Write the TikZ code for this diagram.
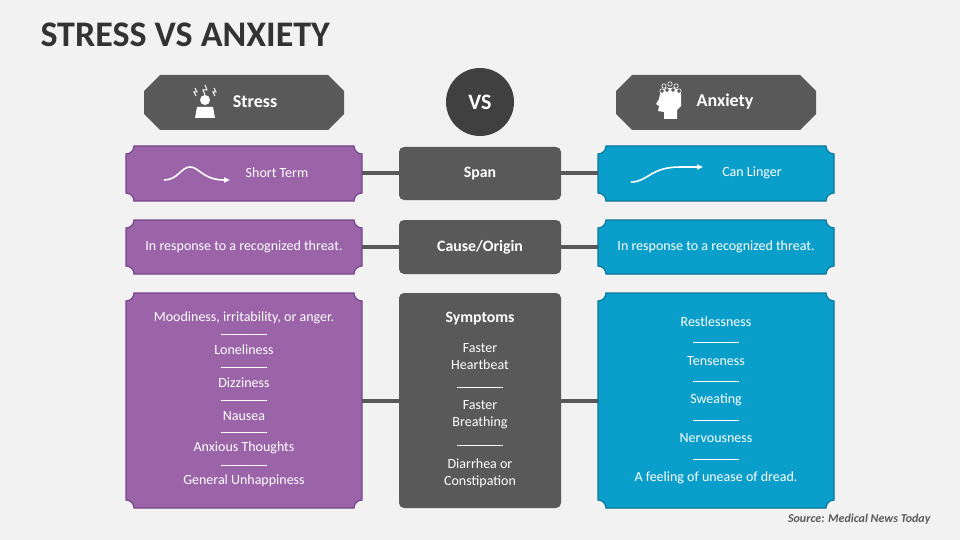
\documentclass[tikz,border=0pt]{standalone}
\usepackage{fontspec}
\setmainfont{Carlito}
\usetikzlibrary{arrows.meta}
\definecolor{bg}{HTML}{F2F2F2}
\definecolor{hdr}{HTML}{595959}
\definecolor{mid}{HTML}{595959}
\definecolor{vsc}{HTML}{404040}
\definecolor{pur}{HTML}{9B64A9}
\definecolor{purd}{HTML}{76468A}
\definecolor{blu}{HTML}{0A9FCB}
\definecolor{blud}{HTML}{0A7899}
\definecolor{ttl}{HTML}{333333}
\newcommand{\notchbox}[6]{%
\filldraw[fill=#5,draw=#6,line width=1.2pt] (#1+8,#2) -- (#3-8,#2) arc[start angle=180,end angle=270,radius=8] -- (#3,#4+8) arc[start angle=90,end angle=180,radius=8] -- (#1+8,#4) arc[start angle=0,end angle=90,radius=8] -- (#1,#2-8) arc[start angle=270,end angle=360,radius=8] -- cycle;}
\tikzset{x=1pt,y=1pt,
 txt/.style={text=white,font=\fontsize{14}{16}\selectfont,align=center},
 btxt/.style={text=white,font=\bfseries\fontsize{15.8}{18}\selectfont,align=center},
 hole/.style={draw=none,inner sep=0pt},
 conn/.style={draw=hdr,line width=4pt},
 sep/.style={draw=white,line width=1pt},
 midbox/.style={fill=mid,rounded corners=5pt,draw=none,inner sep=0pt}}
\begin{document}
\begin{tikzpicture}
\useasboundingbox[fill=bg] (0,0) rectangle (960,-540);
\node[anchor=base west,text=ttl,font=\bfseries\fontsize{36}{40}\selectfont] (title) at (37,-47) {STRESS VS ANXIETY};
% headers
\fill[hdr] (160,-75) -- (328,-75) -- (344,-91) -- (344,-114) -- (328,-130) -- (160,-130) -- (144,-114) -- (144,-91) -- cycle;
\fill[hdr] (632,-75) -- (800,-75) -- (816,-91) -- (816,-114) -- (800,-130) -- (632,-130) -- (616,-114) -- (616,-91) -- cycle;
\node[btxt,font=\bfseries\fontsize{18}{20}\selectfont] (hs) at (255,-102) {Stress};
\node[btxt,font=\bfseries\fontsize{18}{20}\selectfont] (ha) at (725,-102) {Anxiety};
\node[circle,fill=vsc,minimum size=68pt,btxt,font=\bfseries\fontsize{22}{24}\selectfont] (vs) at (480,-102) {VS};
% stress icon
\fill[white] (205,-100) circle (5);
\fill[white] (195,-118) -- (197,-107) -- (213,-107) -- (215,-118) -- cycle;
\draw[white,line width=1pt] (205,-85) -- (207,-90) -- (203,-90) -- (205,-95);
\draw[white,line width=1pt] (195,-88) -- (197,-92) -- (194,-92) -- (196,-96);
\draw[white,line width=1pt] (214,-88) -- (216,-92) -- (213,-92) -- (215,-96);
% anxiety icon
\fill[white] (660,-94) .. controls (660,-86) and (681,-86) .. (681,-94) -- (681,-106) -- (677,-110) -- (677,-119) -- (664,-119) -- (664,-112) -- (658,-111) -- (659,-106) -- (656,-104) -- (659,-99) -- cycle;
\foreach \p in {(664,-86),(670,-84),(676,-86),(667,-90),(673,-90),(662,-91),(679,-91)} \draw[white,line width=0.6pt,fill=hdr] \p circle (2.2);
% row 1
\notchbox{126}{-146}{362}{-201}{pur}{purd}
\notchbox{598}{-146}{834}{-201}{blu}{blud}
\node[hole,minimum width=236pt,minimum height=55pt] (p1) at (244,-173.5) {};
\node[hole,minimum width=236pt,minimum height=55pt] (b1) at (716,-173.5) {};
\node[midbox,minimum width=162pt,minimum height=53pt,btxt] (m1) at (480,-173.5) {Span};
\draw[conn] (p1.east) -- (m1.west);
\draw[conn] (m1.east) -- (b1.west);
\node[txt] (t1) at (277,-173) {Short Term};
\node[txt] (t2) at (752,-173) {Can Linger};
\draw[white,line width=1.6pt,-{Triangle[length=6pt,width=5pt]}] (164,-180) .. controls (178,-180) and (181,-167) .. (190,-167) .. controls (199,-167) and (203,-180) .. (230,-180);
\draw[white,line width=1.6pt,-{Triangle[length=6pt,width=5pt]}] (631,-182) .. controls (648,-182) and (650,-167) .. (680,-167) -- (703,-167);
% row 2
\notchbox{126}{-220}{362}{-274}{pur}{purd}
\notchbox{598}{-220}{834}{-274}{blu}{blud}
\node[hole,minimum width=236pt,minimum height=54pt,txt] (p2) at (244,-247) {In response to a recognized threat.};
\node[hole,minimum width=236pt,minimum height=54pt,txt] (b2) at (716,-247) {In response to a recognized threat.};
\node[midbox,minimum width=162pt,minimum height=54pt,btxt] (m2) at (480,-247) {Cause/Origin};
\draw[conn] (p2.east) -- (m2.west);
\draw[conn] (m2.east) -- (b2.west);
% row 3
\notchbox{126}{-293}{362}{-508}{pur}{purd}
\notchbox{598}{-293}{834}{-508}{blu}{blud}
\node[hole,minimum width=236pt,minimum height=215pt] (p3) at (244,-400.5) {};
\node[hole,minimum width=236pt,minimum height=215pt] (b3) at (716,-400.5) {};
\node[midbox,minimum width=162pt,minimum height=215pt] (m3) at (480,-400.5) {};
\draw[conn] (p3.east) -- (m3.west);
\draw[conn] (m3.east) -- (b3.west);
\foreach \t/\y [count=\i] in {{Moodiness, irritability, or anger.}/-318,Loneliness/-350,Dizziness/-383,Nausea/-416,Anxious Thoughts/-448,General Unhappiness/-481}
  \node[txt] (ps\i) at (244,\y) {\t};
\foreach \y in {-334,-367,-400,-432,-465} \draw[sep] (221,\y) -- (267,\y);
\foreach \t/\y [count=\i] in {Restlessness/-322,Tenseness/-361,Sweating/-400,Nervousness/-438,{A feeling of unease of dread.}/-478}
  \node[txt] (bs\i) at (716,\y) {\t};
\foreach \y in {-342,-381,-420,-459} \draw[sep] (693,\y) -- (739,\y);
\node[btxt] (sy) at (480,-319) {Symptoms};
\node[txt,font=\fontsize{14}{17}\selectfont] (s1) at (480,-357) {Faster\\Heartbeat};
\node[txt,font=\fontsize{14}{17}\selectfont] (s2) at (480,-415) {Faster\\Breathing};
\node[txt,font=\fontsize{14}{17}\selectfont] (s3) at (480,-473) {Diarrhea or\\Constipation};
\draw[sep] (457,-387) -- (503,-387);
\draw[sep] (457,-445) -- (503,-445);
\node[anchor=east,text=hdr,font=\bfseries\itshape\fontsize{12}{14}\selectfont] (src) at (934,-519) {Source: Medical News Today};
\end{tikzpicture}
\end{document}
